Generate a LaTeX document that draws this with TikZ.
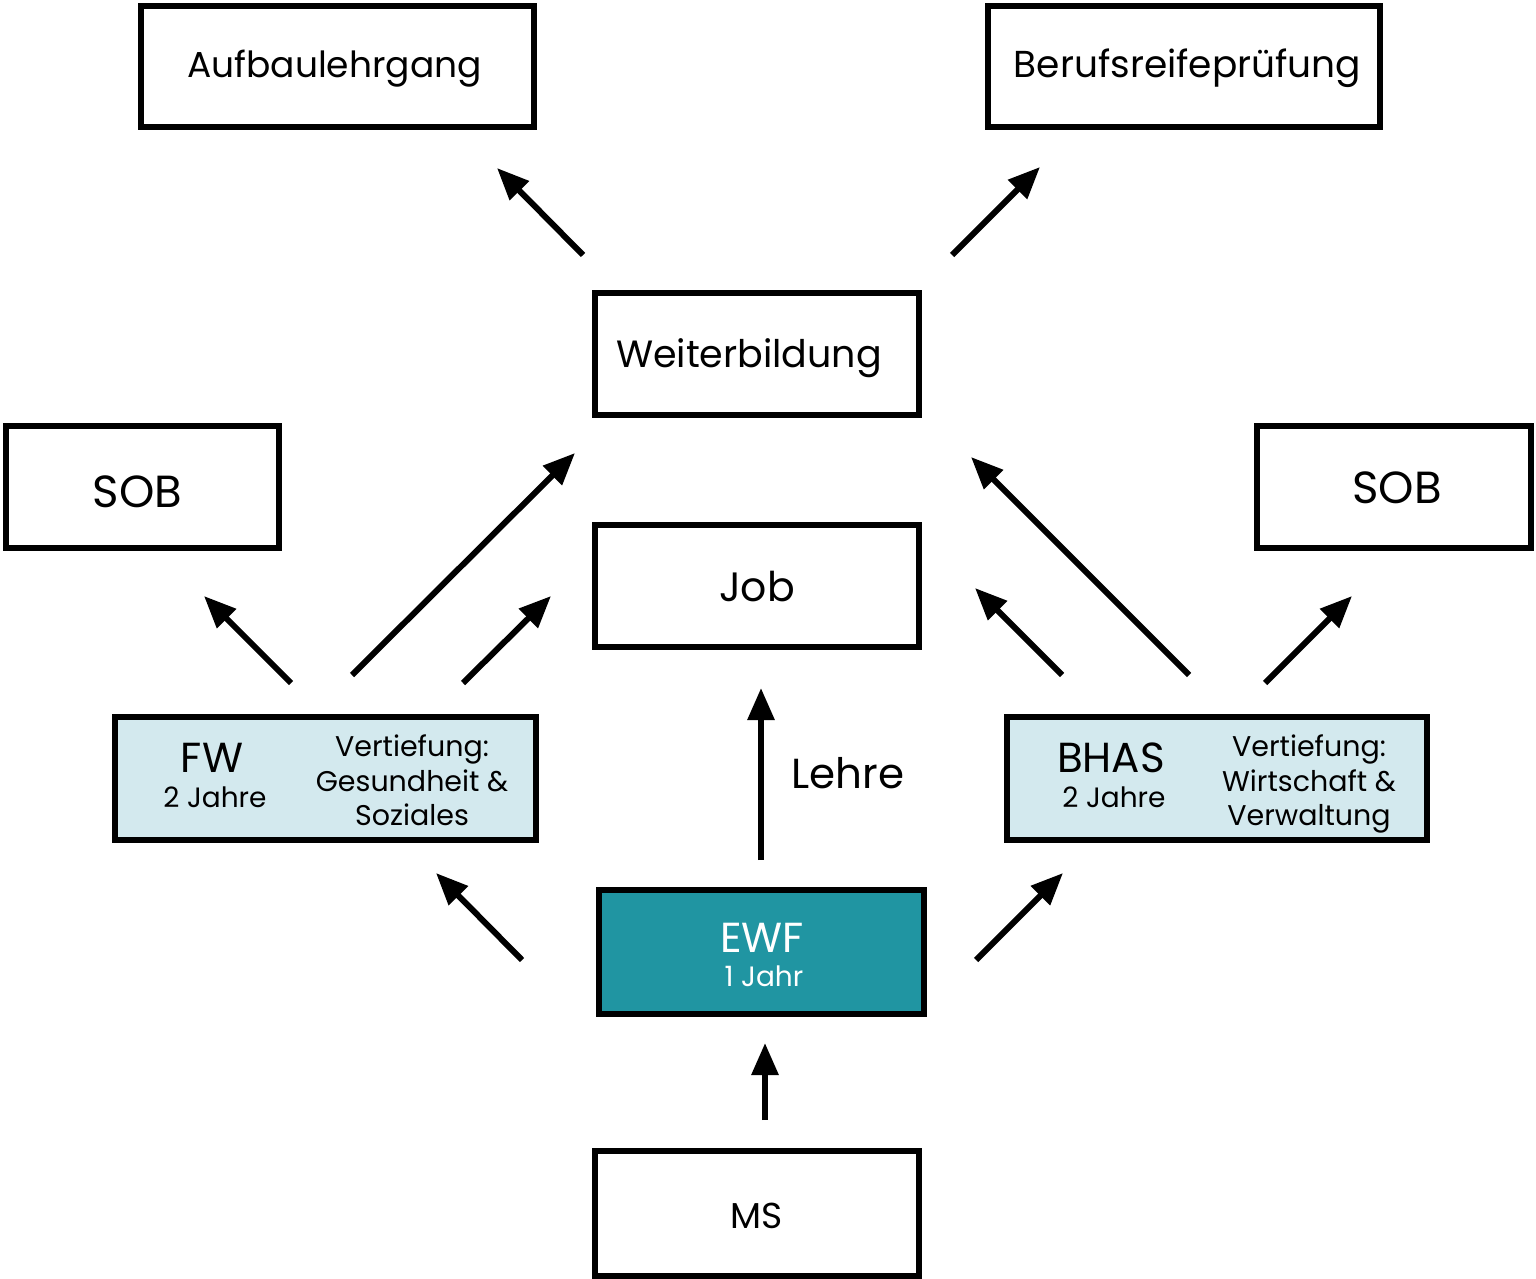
\documentclass[tikz,border=0pt]{standalone}
\usepackage{fontspec}
\setmainfont{Poppins}
\usetikzlibrary{arrows.meta}
\definecolor{lightbox}{HTML}{D3E9EE}
\definecolor{tealbox}{HTML}{2095A2}
\tikzset{
  box/.style={draw=black, line width=6pt, rectangle, inner sep=0pt, anchor=center, text depth=0pt},
  arr/.style={line width=6pt, -{Triangle[length=32pt,width=26pt]}},
  capc/.style={inner sep=0pt, text depth=0pt, anchor=center},
  fs/.style={font=\fontsize{#1}{#1}\selectfont},
  multi/.style={font=\fontsize{28.5}{34.5}\selectfont, align=center, inner sep=0pt, anchor=north},
}
\begin{document}
\begin{tikzpicture}[x=1pt,y=-1pt]
\useasboundingbox (0,0) rectangle (1536,1279);
% boxes
\node[box, fs=36, text height=22.2pt, minimum width=393pt, minimum height=121pt] (auf) at (337.5,66.5) {\hspace*{-6pt}Aufbaulehrgang};
\node[box, fs=37.5, text height=23pt, minimum width=392pt, minimum height=121pt] (ber) at (1184,66.5) {\hspace*{7pt}Berufsreifeprüfung};
\node[box, fs=38, text height=26.6pt, minimum width=324pt, minimum height=122pt] (wei) at (757,354) {\hspace*{-16pt}Weiterbildung};
\node[box, fs=45, text height=40.5pt, minimum width=273pt, minimum height=122pt] (sobl) at (142.5,487) {\hspace*{-10pt}SOB};
\node[box, fs=45, text height=33.5pt, minimum width=274pt, minimum height=122pt] (sobr) at (1394,487) {\hspace*{6pt}SOB};
\node[box, fs=41, text height=31.7pt, minimum width=324pt, minimum height=122pt] (job) at (757,586) {Job};
\node[box, fill=lightbox, minimum width=421pt, minimum height=123pt] (fw) at (325.5,778.5) {};
\node[box, fill=lightbox, minimum width=420pt, minimum height=123pt] (bhas) at (1217,778.5) {};
\node[box, fill=tealbox, minimum width=325pt, minimum height=124pt] (ewf) at (761.5,952) {};
\node[box, fs=36, text height=30.2pt, minimum width=324pt, minimum height=125pt] (ms) at (757,1213.5) {MS};
% inner texts
\node[capc, fs=42, text height=29.4pt] (fwt) at (212,757.5) {FW};
\node[capc, fs=28, text height=19.6pt] (fwj) at (215,798) {2 Jahre};
\node[multi] (fwv) at (412,735) {Vertiefung:\\Gesundheit \&\\Soziales};
\node[capc, fs=42, text height=29.4pt] (bhast) at (1111,757.5) {BHAS};
\node[capc, fs=28, text height=19.6pt] (bhasj) at (1114,798) {2 Jahre};
\node[multi] (bhasv) at (1309,735) {Vertiefung:\\Wirtschaft \&\\Verwaltung};
\node[capc, fs=42, text height=29.4pt, text=white] (ewft) at (762,937.5) {EWF};
\node[capc, fs=28, text height=19.6pt, text=white] (ewfj) at (764,977) {1 Jahr};
\node[capc, fs=42, text height=29.4pt] (lehre) at (848,773.5) {Lehre};
% arrow end points
\coordinate (a1s) at (583,255); \coordinate (a1e) at (497,168);
\coordinate (a2s) at (952,255); \coordinate (a2e) at (1040,167);
\coordinate (a3s) at (291,683); \coordinate (a3e) at (204,596);
\coordinate (a4s) at (352,675); \coordinate (a4e) at (575,453);
\coordinate (a5s) at (463,683); \coordinate (a5e) at (551,596);
\coordinate (a6s) at (1062,675); \coordinate (a6e) at (975,588);
\coordinate (a7s) at (1189,675); \coordinate (a7e) at (971,457);
\coordinate (a8s) at (1265,683); \coordinate (a8e) at (1352,596);
\coordinate (a9s) at (761,860); \coordinate (a9e) at (761,688);
\coordinate (a10s) at (522,960); \coordinate (a10e) at (436,873);
\coordinate (a11s) at (976,960); \coordinate (a11e) at (1063,873);
\coordinate (a12s) at (765,1120); \coordinate (a12e) at (765,1043);
\foreach \i in {1,...,12} { \draw[arr] (a\i s) -- (a\i e); }
\end{tikzpicture}
\end{document}
